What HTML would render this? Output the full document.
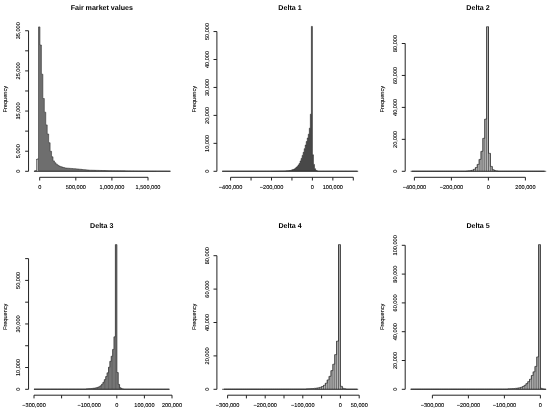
<!DOCTYPE html>
<html><head><meta charset="utf-8"><title>Histograms</title>
<style>
html,body{margin:0;padding:0;background:#fff;}
svg{display:block;}
text{text-rendering:geometricPrecision;}
.t{font-family:"Liberation Sans",Arial,sans-serif;font-size:5.6px;fill:#000;stroke:#000;stroke-width:0.1px;}
.h{font-family:"Liberation Sans",Arial,sans-serif;font-size:7.1px;font-weight:bold;fill:#000;}
</style></head><body>
<svg width="550" height="415" viewBox="0 0 550 415">
<defs><filter id="bl" x="0" y="0" width="100%" height="100%" filterUnits="userSpaceOnUse"><feGaussianBlur stdDeviation="0.4"/></filter></defs>
<rect width="550" height="415" fill="#fff"/>
<g fill="none" stroke="#222" stroke-width="1.0">
<path d="M28.55,30.74V171.30"/>
<path d="M25.15,171.30H28.55"/>
<path d="M25.15,151.22H28.55"/>
<path d="M25.15,131.14H28.55"/>
<path d="M25.15,111.06H28.55"/>
<path d="M25.15,90.98H28.55"/>
<path d="M25.15,70.90H28.55"/>
<path d="M25.15,50.82H28.55"/>
<path d="M25.15,30.74H28.55"/>
<path d="M39.70,177.30H148.00"/>
<path d="M39.70,177.30v3.2"/>
<path d="M75.80,177.30v3.2"/>
<path d="M111.90,177.30v3.2"/>
<path d="M148.00,177.30v3.2"/>
<path d="M216.90,31.55V171.30"/>
<path d="M213.50,171.30H216.90"/>
<path d="M213.50,143.35H216.90"/>
<path d="M213.50,115.40H216.90"/>
<path d="M213.50,87.45H216.90"/>
<path d="M213.50,59.50H216.90"/>
<path d="M213.50,31.55H216.90"/>
<path d="M230.60,177.30H353.30"/>
<path d="M230.60,177.30v3.2"/>
<path d="M251.05,177.30v3.2"/>
<path d="M271.50,177.30v3.2"/>
<path d="M291.95,177.30v3.2"/>
<path d="M312.40,177.30v3.2"/>
<path d="M332.85,177.30v3.2"/>
<path d="M353.30,177.30v3.2"/>
<path d="M405.20,43.50V171.30"/>
<path d="M401.80,171.30H405.20"/>
<path d="M401.80,139.35H405.20"/>
<path d="M401.80,107.40H405.20"/>
<path d="M401.80,75.45H405.20"/>
<path d="M401.80,43.50H405.20"/>
<path d="M414.40,177.30H525.40"/>
<path d="M414.40,177.30v3.2"/>
<path d="M451.40,177.30v3.2"/>
<path d="M488.40,177.30v3.2"/>
<path d="M525.40,177.30v3.2"/>
<path d="M28.55,258.62V389.30"/>
<path d="M25.15,389.30H28.55"/>
<path d="M25.15,367.52H28.55"/>
<path d="M25.15,345.74H28.55"/>
<path d="M25.15,323.96H28.55"/>
<path d="M25.15,302.18H28.55"/>
<path d="M25.15,280.40H28.55"/>
<path d="M25.15,258.62H28.55"/>
<path d="M34.00,395.20H172.00"/>
<path d="M34.00,395.20v3.2"/>
<path d="M61.60,395.20v3.2"/>
<path d="M89.20,395.20v3.2"/>
<path d="M116.80,395.20v3.2"/>
<path d="M144.40,395.20v3.2"/>
<path d="M172.00,395.20v3.2"/>
<path d="M216.90,255.70V389.30"/>
<path d="M213.50,389.30H216.90"/>
<path d="M213.50,355.90H216.90"/>
<path d="M213.50,322.50H216.90"/>
<path d="M213.50,289.10H216.90"/>
<path d="M213.50,255.70H216.90"/>
<path d="M227.60,395.20H359.20"/>
<path d="M227.60,395.20v3.2"/>
<path d="M246.40,395.20v3.2"/>
<path d="M265.20,395.20v3.2"/>
<path d="M284.00,395.20v3.2"/>
<path d="M302.80,395.20v3.2"/>
<path d="M321.60,395.20v3.2"/>
<path d="M340.40,395.20v3.2"/>
<path d="M359.20,395.20v3.2"/>
<path d="M405.20,245.30V389.30"/>
<path d="M401.80,389.30H405.20"/>
<path d="M401.80,360.50H405.20"/>
<path d="M401.80,331.70H405.20"/>
<path d="M401.80,302.90H405.20"/>
<path d="M401.80,274.10H405.20"/>
<path d="M401.80,245.30H405.20"/>
<path d="M432.40,395.20H540.40"/>
<path d="M432.40,395.20v3.2"/>
<path d="M468.40,395.20v3.2"/>
<path d="M504.40,395.20v3.2"/>
<path d="M540.40,395.20v3.2"/>
</g>
<path d="M34.15,171.30V171.00H35.60V170.60H37.05V159.00H38.50V26.90H39.95V45.00H41.40V74.20H42.85V98.50H44.30V112.20H45.75V124.90H47.20V134.00H48.65V142.70H50.10V151.30H51.55V156.80H53.00V160.90H54.45V162.77H55.90V164.16H57.35V165.31H58.80V166.08H60.25V166.70H61.70V167.12H63.15V167.55H64.60V167.98H66.05V168.11H67.50V168.22H68.95V168.34H70.40V168.45H71.85V168.57H73.30V168.68H74.75V168.80H76.20V168.94H77.65V169.08H79.10V169.23H80.55V169.37H82.00V169.51H83.45V169.66H84.90V169.80H86.35V169.94H87.80V170.08H89.25V170.21H90.70V170.24H92.15V170.28H93.60V170.31H95.05V170.35H96.50V170.39H97.95V170.42H99.40V170.46H100.85V170.49H102.30V170.53H103.75V170.56H105.20V170.60H106.65V170.64H108.10V170.67H109.55V170.70H111.00V170.72H112.45V170.74H113.90V170.75H115.35V170.77H116.80V170.79H118.25V170.80H119.70V170.82H121.15V170.84H122.60V170.86H124.05V170.87H125.50V170.89H126.95V170.91H128.40V170.92H129.85V170.94H131.30V170.96H132.75V170.97H134.20V170.99H135.65V171.01H137.10V171.02H138.55V171.04H140.00V171.05H141.45V171.06H142.90V171.07H144.35V171.07H145.80V171.08H147.25V171.09H148.70V171.10H150.15V171.10H151.60V171.11H153.05V171.12H154.50V171.12H155.95V171.13H157.40V171.14H158.85V171.14H160.30V171.15H161.75V171.16H163.20V171.17H164.65V171.17H166.10V171.18H167.55V171.19H169.00V171.19H170.45V171.30Z" fill="#6e6e6e" stroke="#333" stroke-width="0.6" stroke-linejoin="miter"/>
<path d="M34.10,171.30H170.20" fill="none" stroke="#222" stroke-width="0.7"/>
<rect x="36.70" y="159.2" width="1.55" height="12.10" fill="#b4b4b4" stroke="#444" stroke-width="0.5"/>
<path d="M222.42,171.30V171.20H223.44V171.20H224.47V171.20H225.49V171.20H226.51V171.20H227.53V171.19H228.55V171.19H229.58V171.19H230.60V171.19H231.62V171.19H232.64V171.19H233.67V171.19H234.69V171.19H235.71V171.19H236.73V171.18H237.76V171.18H238.78V171.18H239.80V171.18H240.82V171.18H241.85V171.18H242.87V171.18H243.89V171.18H244.91V171.18H245.94V171.17H246.96V171.17H247.98V171.17H249.00V171.17H250.03V171.17H251.05V171.17H252.07V171.17H253.09V171.17H254.12V171.17H255.14V171.17H256.16V171.16H257.18V171.16H258.21V171.16H259.23V171.16H260.25V171.16H261.27V171.16H262.30V171.16H263.32V171.16H264.34V171.16H265.36V171.15H266.39V171.15H267.41V171.15H268.43V171.15H269.45V171.15H270.48V171.14H271.50V171.12H272.52V171.11H273.54V171.09H274.57V171.07H275.59V171.06H276.61V171.04H277.63V171.02H278.66V171.00H279.68V170.99H280.70V170.97H281.72V170.95H282.75V170.94H283.77V170.92H284.79V170.90H285.81V170.83H286.84V170.75H287.86V170.67H288.88V170.59H289.90V170.51H290.93V170.16H291.95V169.79H292.97V169.41H293.99V169.04H295.02V168.20H296.04V167.32H297.06V166.43H298.08V164.96H299.11V163.46H300.13V160.96H301.15V158.42H302.17V155.38H303.20V152.31H304.22V148.68H305.24V145.05H306.26V141.55H307.29V138.00H308.31V134.20H309.33V128.20H310.35V114.20H311.38V26.40H312.40V154.80H313.42V164.40H314.44V168.70H315.47V170.30H316.49V170.80H317.51V171.20H318.53V171.20H319.56V171.20H320.58V171.20H321.60V171.20H322.62V171.20H323.65V171.20H324.67V171.20H325.69V171.20H326.71V171.20H327.74V171.20H328.76V171.20H329.78V171.20H330.80V171.20H331.83V171.20H332.85V171.20H333.87V171.20H334.89V171.20H335.92V171.20H336.94V171.20H337.96V171.20H338.98V171.20H340.01V171.20H341.03V171.20H342.05V171.20H343.07V171.20H344.10V171.20H345.12V171.20H346.14V171.20H347.16V171.20H348.19V171.20H349.21V171.20H350.23V171.20H351.25V171.20H352.28V171.20H353.30V171.20H354.32V171.20H355.34V171.20H356.37V171.20H357.39V171.30Z" fill="#484848" stroke="#2a2a2a" stroke-width="0.6" stroke-linejoin="miter"/>
<path d="M222.00,171.30H358.20" fill="none" stroke="#222" stroke-width="0.7"/>
<path d="M411.83,171.30V171.20H413.70V171.20H415.57V171.20H417.44V171.20H419.31V171.20H421.18V171.20H423.05V171.20H424.92V171.20H426.79V171.20H428.66V171.20H430.53V171.20H432.40V171.20H434.27V171.20H436.14V171.20H438.01V171.20H439.88V171.20H441.75V171.20H443.62V171.20H445.49V171.20H447.36V171.20H449.23V171.20H451.10V171.20H452.97V171.20H454.84V171.20H456.71V171.20H458.58V171.20H460.45V171.20H462.32V171.20H464.19V171.20H466.06V171.00H467.93V170.80H469.80V170.60H471.67V170.20H473.54V169.30H475.41V167.50H477.28V164.40H479.15V159.40H481.02V151.30H482.89V138.30H484.76V119.10H486.63V26.70H488.50V153.30H490.37V166.40H492.24V169.70H494.11V170.60H495.98V170.90H497.85V171.20H499.72V171.20H501.59V171.20H503.46V171.20H505.33V171.20H507.20V171.20H509.07V171.20H510.94V171.20H512.81V171.20H514.68V171.20H516.55V171.20H518.42V171.20H520.29V171.20H522.16V171.20H524.03V171.20H525.90V171.20H527.77V171.20H529.64V171.20H531.51V171.20H533.38V171.20H535.25V171.20H537.12V171.20H538.99V171.20H540.86V171.20H542.73V171.20H544.60V171.30Z" fill="#c2c2c2" stroke="#111" stroke-width="0.55" stroke-linejoin="miter"/>
<path d="M471.67,171.30V170.20M473.54,171.30V169.30M475.41,171.30V167.50M477.28,171.30V164.40M479.15,171.30V159.40M481.02,171.30V151.30M482.89,171.30V138.30M484.76,171.30V119.10M486.63,171.30V26.70M488.50,171.30V26.70M490.37,171.30V153.30M492.24,171.30V166.40M494.11,171.30V169.70" fill="none" stroke="#111" stroke-width="0.5" stroke-opacity="1.0"/>
<path d="M410.60,171.30H546.20" fill="none" stroke="#222" stroke-width="0.7"/>
<path d="M34.00,389.30V389.10H35.38V389.10H36.76V389.10H38.14V389.10H39.52V389.10H40.90V389.10H42.28V389.10H43.66V389.10H45.04V389.10H46.42V389.10H47.80V389.10H49.18V389.10H50.56V389.10H51.94V389.10H53.32V389.10H54.70V389.10H56.08V389.10H57.46V389.10H58.84V389.10H60.22V389.10H61.60V389.10H62.98V389.10H64.36V389.10H65.74V389.10H67.12V389.10H68.50V389.10H69.88V389.10H71.26V389.10H72.64V389.10H74.02V389.10H75.40V389.10H76.78V389.10H78.16V389.10H79.54V389.10H80.92V389.10H82.30V389.10H83.68V389.10H85.06V389.10H86.44V388.80H87.82V388.70H89.20V388.60H90.58V388.50H91.96V388.40H93.34V388.20H94.72V388.00H96.10V387.70H97.48V387.30H98.86V386.70H100.24V385.70H101.62V384.20H103.00V382.20H104.38V379.60H105.76V376.50H107.14V372.80H108.52V367.20H109.90V361.30H111.28V356.20H112.66V349.40H114.04V336.80H115.42V244.60H116.80V372.50H118.18V384.40H119.56V387.70H120.94V388.60H122.32V388.90H123.70V389.20H125.08V389.20H126.46V389.20H127.84V389.20H129.22V389.20H130.60V389.20H131.98V389.20H133.36V389.20H134.74V389.20H136.12V389.20H137.50V389.20H138.88V389.20H140.26V389.20H141.64V389.20H143.02V389.20H144.40V389.20H145.78V389.20H147.16V389.20H148.54V389.20H149.92V389.20H151.30V389.20H152.68V389.20H154.06V389.20H155.44V389.20H156.82V389.20H158.20V389.20H159.58V389.20H160.96V389.20H162.34V389.20H163.72V389.20H165.10V389.20H166.48V389.20H167.86V389.20H169.24V389.30Z" fill="#909090" stroke="#2a2a2a" stroke-width="0.6" stroke-linejoin="miter"/>
<path d="M93.34,389.30V388.20M94.72,389.30V388.00M96.10,389.30V387.70M97.48,389.30V387.30M98.86,389.30V386.70M100.24,389.30V385.70M101.62,389.30V384.20M103.00,389.30V382.20M104.38,389.30V379.60M105.76,389.30V376.50M107.14,389.30V372.80M108.52,389.30V367.20M109.90,389.30V361.30M111.28,389.30V356.20M112.66,389.30V349.40M114.04,389.30V336.80M115.42,389.30V244.60M116.80,389.30V244.60M118.18,389.30V372.50M119.56,389.30V384.40M120.94,389.30V387.70" fill="none" stroke="#222" stroke-width="0.45" stroke-opacity="0.9"/>
<path d="M34.00,389.30H169.60" fill="none" stroke="#222" stroke-width="0.7"/>
<path d="M223.84,389.30V389.10H225.72V389.10H227.60V389.10H229.48V389.10H231.36V389.10H233.24V389.10H235.12V389.10H237.00V389.10H238.88V389.10H240.76V389.10H242.64V389.10H244.52V389.10H246.40V389.10H248.28V389.10H250.16V389.10H252.04V389.10H253.92V389.10H255.80V389.10H257.68V389.10H259.56V389.10H261.44V389.10H263.32V389.10H265.20V389.10H267.08V389.10H268.96V389.10H270.84V389.10H272.72V389.10H274.60V389.10H276.48V389.10H278.36V389.10H280.24V389.10H282.12V389.10H284.00V389.10H285.88V389.10H287.76V389.10H289.64V389.10H291.52V389.10H293.40V389.10H295.28V389.10H297.16V389.10H299.04V389.10H300.92V389.10H302.80V389.10H304.68V389.10H306.56V388.80H308.44V388.70H310.32V388.60H312.20V388.50H314.08V388.30H315.96V388.10H317.84V387.80H319.72V387.30H321.60V386.50H323.48V385.30H325.36V383.20H327.24V379.90H329.12V376.30H331.00V370.60H332.88V364.20H334.76V354.60H336.64V341.10H338.52V244.60H340.40V386.30H342.28V388.30H344.16V388.80H346.04V389.20H347.92V389.20H349.80V389.20H351.68V389.20H353.56V389.20H355.44V389.20H357.32V389.30Z" fill="#c2c2c2" stroke="#111" stroke-width="0.55" stroke-linejoin="miter"/>
<path d="M315.96,389.30V388.10M317.84,389.30V387.80M319.72,389.30V387.30M321.60,389.30V386.50M323.48,389.30V385.30M325.36,389.30V383.20M327.24,389.30V379.90M329.12,389.30V376.30M331.00,389.30V370.60M332.88,389.30V364.20M334.76,389.30V354.60M336.64,389.30V341.10M338.52,389.30V244.60M340.40,389.30V244.60M342.28,389.30V386.30" fill="none" stroke="#111" stroke-width="0.5" stroke-opacity="1.0"/>
<path d="M222.00,389.30H358.20" fill="none" stroke="#222" stroke-width="0.7"/>
<path d="M410.80,389.30V389.10H412.60V389.10H414.40V389.10H416.20V389.10H418.00V389.10H419.80V389.10H421.60V389.10H423.40V389.10H425.20V389.10H427.00V389.10H428.80V389.10H430.60V389.10H432.40V389.10H434.20V389.10H436.00V389.10H437.80V389.10H439.60V389.10H441.40V389.10H443.20V389.10H445.00V389.10H446.80V389.10H448.60V389.10H450.40V389.10H452.20V389.10H454.00V389.10H455.80V389.10H457.60V389.10H459.40V389.10H461.20V389.10H463.00V389.10H464.80V389.10H466.60V389.10H468.40V389.10H470.20V389.10H472.00V389.10H473.80V389.10H475.60V389.10H477.40V389.10H479.20V389.10H481.00V389.10H482.80V389.10H484.60V389.10H486.40V389.10H488.20V389.10H490.00V389.10H491.80V389.10H493.60V389.10H495.40V389.10H497.20V389.10H499.00V389.10H500.80V389.10H502.60V389.10H504.40V389.10H506.20V389.10H508.00V388.80H509.80V388.70H511.60V388.60H513.40V388.50H515.20V388.30H517.00V388.10H518.80V387.80H520.60V387.30H522.40V386.50H524.20V385.30H526.00V383.60H527.80V381.60H529.60V379.20H531.40V375.50H533.20V371.80H535.00V366.40H536.80V356.90H538.60V244.60H540.40V388.30H542.20V388.90H544.00V389.20H545.80V389.30Z" fill="#c2c2c2" stroke="#111" stroke-width="0.55" stroke-linejoin="miter"/>
<path d="M517.00,389.30V388.10M518.80,389.30V387.80M520.60,389.30V387.30M522.40,389.30V386.50M524.20,389.30V385.30M526.00,389.30V383.60M527.80,389.30V381.60M529.60,389.30V379.20M531.40,389.30V375.50M533.20,389.30V371.80M535.00,389.30V366.40M536.80,389.30V356.90M538.60,389.30V244.60M540.40,389.30V244.60" fill="none" stroke="#111" stroke-width="0.5" stroke-opacity="1.0"/>
<path d="M410.60,389.30H546.20" fill="none" stroke="#222" stroke-width="0.7"/>
<g filter="url(#bl)">
<text class="t" transform="translate(20.35,171.30) rotate(-90)" text-anchor="middle">0</text>
<text class="t" transform="translate(20.35,151.22) rotate(-90)" text-anchor="middle">5,000</text>
<text class="t" transform="translate(20.35,111.06) rotate(-90)" text-anchor="middle">15,000</text>
<text class="t" transform="translate(20.35,70.90) rotate(-90)" text-anchor="middle">25,000</text>
<text class="t" transform="translate(20.35,30.74) rotate(-90)" text-anchor="middle">35,000</text>
<text class="t" transform="translate(7.15,99.20) rotate(-90)" text-anchor="middle">Frequency</text>
<text class="t" x="39.70" y="189.00" text-anchor="middle">0</text>
<text class="t" x="75.80" y="189.00" text-anchor="middle">500,000</text>
<text class="t" x="111.90" y="189.00" text-anchor="middle">1,000,000</text>
<text class="t" x="148.00" y="189.00" text-anchor="middle">1,500,000</text>
<text class="t" transform="translate(208.70,171.30) rotate(-90)" text-anchor="middle">0</text>
<text class="t" transform="translate(208.70,143.35) rotate(-90)" text-anchor="middle">10,000</text>
<text class="t" transform="translate(208.70,115.40) rotate(-90)" text-anchor="middle">20,000</text>
<text class="t" transform="translate(208.70,87.45) rotate(-90)" text-anchor="middle">30,000</text>
<text class="t" transform="translate(208.70,59.50) rotate(-90)" text-anchor="middle">40,000</text>
<text class="t" transform="translate(208.70,31.55) rotate(-90)" text-anchor="middle">50,000</text>
<text class="t" transform="translate(195.50,99.20) rotate(-90)" text-anchor="middle">Frequency</text>
<text class="t" x="230.60" y="189.00" text-anchor="middle">−400,000</text>
<text class="t" x="271.50" y="189.00" text-anchor="middle">−200,000</text>
<text class="t" x="312.40" y="189.00" text-anchor="middle">0</text>
<text class="t" x="332.85" y="189.00" text-anchor="middle">100,000</text>
<text class="t" transform="translate(397.00,171.30) rotate(-90)" text-anchor="middle">0</text>
<text class="t" transform="translate(397.00,139.35) rotate(-90)" text-anchor="middle">20,000</text>
<text class="t" transform="translate(397.00,107.40) rotate(-90)" text-anchor="middle">40,000</text>
<text class="t" transform="translate(397.00,75.45) rotate(-90)" text-anchor="middle">60,000</text>
<text class="t" transform="translate(397.00,43.50) rotate(-90)" text-anchor="middle">80,000</text>
<text class="t" transform="translate(383.80,99.20) rotate(-90)" text-anchor="middle">Frequency</text>
<text class="t" x="414.40" y="189.00" text-anchor="middle">−400,000</text>
<text class="t" x="451.40" y="189.00" text-anchor="middle">−200,000</text>
<text class="t" x="488.40" y="189.00" text-anchor="middle">0</text>
<text class="t" x="525.40" y="189.00" text-anchor="middle">200,000</text>
<text class="t" transform="translate(20.35,389.30) rotate(-90)" text-anchor="middle">0</text>
<text class="t" transform="translate(20.35,367.52) rotate(-90)" text-anchor="middle">10,000</text>
<text class="t" transform="translate(20.35,323.96) rotate(-90)" text-anchor="middle">30,000</text>
<text class="t" transform="translate(20.35,280.40) rotate(-90)" text-anchor="middle">50,000</text>
<text class="t" transform="translate(7.15,316.80) rotate(-90)" text-anchor="middle">Frequency</text>
<text class="t" x="34.00" y="406.90" text-anchor="middle">−300,000</text>
<text class="t" x="89.20" y="406.90" text-anchor="middle">−100,000</text>
<text class="t" x="116.80" y="406.90" text-anchor="middle">0</text>
<text class="t" x="144.40" y="406.90" text-anchor="middle">100,000</text>
<text class="t" x="172.00" y="406.90" text-anchor="middle">200,000</text>
<text class="t" transform="translate(208.70,389.30) rotate(-90)" text-anchor="middle">0</text>
<text class="t" transform="translate(208.70,355.90) rotate(-90)" text-anchor="middle">20,000</text>
<text class="t" transform="translate(208.70,322.50) rotate(-90)" text-anchor="middle">40,000</text>
<text class="t" transform="translate(208.70,289.10) rotate(-90)" text-anchor="middle">60,000</text>
<text class="t" transform="translate(208.70,255.70) rotate(-90)" text-anchor="middle">80,000</text>
<text class="t" transform="translate(195.50,316.80) rotate(-90)" text-anchor="middle">Frequency</text>
<text class="t" x="227.60" y="406.90" text-anchor="middle">−300,000</text>
<text class="t" x="265.20" y="406.90" text-anchor="middle">−200,000</text>
<text class="t" x="302.80" y="406.90" text-anchor="middle">−100,000</text>
<text class="t" x="340.40" y="406.90" text-anchor="middle">0</text>
<text class="t" x="359.20" y="406.90" text-anchor="middle">50,000</text>
<text class="t" transform="translate(397.00,389.30) rotate(-90)" text-anchor="middle">0</text>
<text class="t" transform="translate(397.00,360.50) rotate(-90)" text-anchor="middle">20,000</text>
<text class="t" transform="translate(397.00,331.70) rotate(-90)" text-anchor="middle">40,000</text>
<text class="t" transform="translate(397.00,302.90) rotate(-90)" text-anchor="middle">60,000</text>
<text class="t" transform="translate(397.00,274.10) rotate(-90)" text-anchor="middle">80,000</text>
<text class="t" transform="translate(397.00,245.30) rotate(-90)" text-anchor="middle">100,000</text>
<text class="t" transform="translate(383.80,316.80) rotate(-90)" text-anchor="middle">Frequency</text>
<text class="t" x="432.40" y="406.90" text-anchor="middle">−300,000</text>
<text class="t" x="468.40" y="406.90" text-anchor="middle">−200,000</text>
<text class="t" x="504.40" y="406.90" text-anchor="middle">−100,000</text>
<text class="t" x="540.40" y="406.90" text-anchor="middle">0</text>
<text class="h" x="101.80" y="10.00" text-anchor="middle">Fair market values</text>
<text class="h" x="290.00" y="10.00" text-anchor="middle">Delta 1</text>
<text class="h" x="478.00" y="10.00" text-anchor="middle">Delta 2</text>
<text class="h" x="101.70" y="228.00" text-anchor="middle">Delta 3</text>
<text class="h" x="290.10" y="228.00" text-anchor="middle">Delta 4</text>
<text class="h" x="478.10" y="228.00" text-anchor="middle">Delta 5</text>
</g>
</svg>
</body></html>
